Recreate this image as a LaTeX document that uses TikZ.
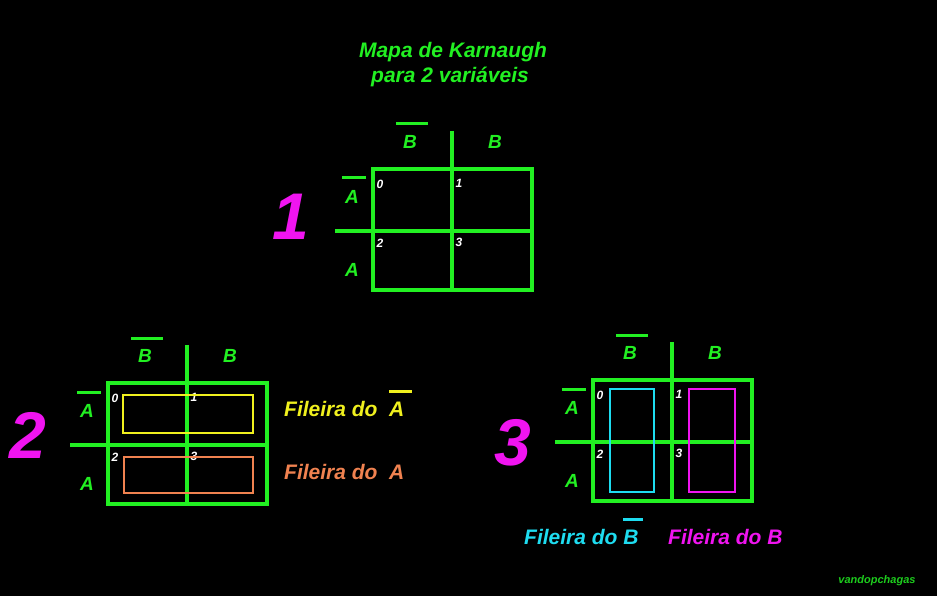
\documentclass[tikz,border=0pt]{standalone}
\usepackage{fontspec}
\setmainfont{Liberation Sans}
\definecolor{kgreen}{RGB}{34,240,34}
\definecolor{kmagenta}{RGB}{240,20,240}
\definecolor{kyellow}{RGB}{240,240,30}
\definecolor{korange}{RGB}{240,130,80}
\definecolor{kcyan}{RGB}{30,220,240}
\tikzset{
  grid line/.style={kgreen, line width=3.6pt},
  bar line/.style={line width=3pt},
  group box/.style={line width=1.8pt},
  var label/.style={text=kgreen, inner sep=0pt, font=\fontsize{19}{19}\selectfont\bfseries\itshape},
  cell num/.style={text=white, inner sep=0pt, font=\fontsize{12}{12}\selectfont\bfseries\itshape},
  big num/.style={text=kmagenta, inner sep=0pt, font=\fontsize{66}{66}\selectfont\bfseries\itshape},
  caption/.style={inner sep=0pt, font=\fontsize{21}{21}\selectfont\bfseries\itshape},
}
% one map, drawn from its top left corner
\newcommand{\kmap}[1]{%
  \draw[grid line] (0,0) rectangle (159,121);
  \draw[grid line] (79,-38) -- (79,121);
  \draw[grid line] (-38,62) -- (159,62);
  \node[var label] (#1-nb) at (37,-27) {B};
  \draw[kgreen, bar line] (23,-45) -- (55,-45);
  \node[var label] (#1-b) at (122,-27) {B};
  \node[var label] (#1-na) at (-21,28) {A};
  \draw[kgreen, bar line] (-31,9) -- (-7,9);
  \node[var label] (#1-a) at (-21,101) {A};
  \node[cell num] (#1-c0) at (7,15) {0};
  \node[cell num] (#1-c1) at (86,14) {1};
  \node[cell num] (#1-c2) at (7,74) {2};
  \node[cell num] (#1-c3) at (86,73) {3};
}
\begin{document}
\begin{tikzpicture}[x=1pt,y=-1pt]
\fill[black] (0,0) rectangle (937,596);
\useasboundingbox (0,0) rectangle (937,596);

% title
\node[caption, text=kgreen] (title1) at (453,52) {Mapa de Karnaugh};
\node[caption, text=kgreen] (title2) at (450,77) {para 2 variáveis};

% map 1
\begin{scope}[shift={(373,169)}]
  \kmap{m1}
\end{scope}
\node[big num] (n1) at (291,217) {1};

% map 2
\begin{scope}[shift={(108,383)}]
  \kmap{m2}
  \draw[kyellow, group box] (15,12) rectangle (145,50);
  \draw[korange, group box] (16,74) rectangle (145,110);
\end{scope}
\node[big num] (n2) at (28,435) {2};
\node[caption, text=kyellow, anchor=west] (rowna) at (284,409) {Fileira do \ A};
\draw[kyellow, bar line] (389,391) -- (412,391);
\node[caption, text=korange, anchor=west] (rowa) at (284,472) {Fileira do \ A};

% map 3
\begin{scope}[shift={(593,380)}]
  \kmap{m3}
  \draw[kcyan, group box] (17,9) rectangle (61,112);
  \draw[kmagenta, group box] (96,9) rectangle (142,112);
\end{scope}
\node[big num] (n3) at (513,443) {3};
\node[caption, text=kcyan, anchor=west] (colnb) at (524,537) {Fileira do B};
\draw[kcyan, bar line] (623,519) -- (643,519);
\node[caption, text=kmagenta, anchor=west] (colb) at (668,537) {Fileira do B};

% signature
\node[text=kgreen!85!black, inner sep=0pt, font=\fontsize{11}{11}\selectfont\bfseries\itshape] (sign) at (877,581) {vandopchagas};
\end{tikzpicture}
\end{document}
